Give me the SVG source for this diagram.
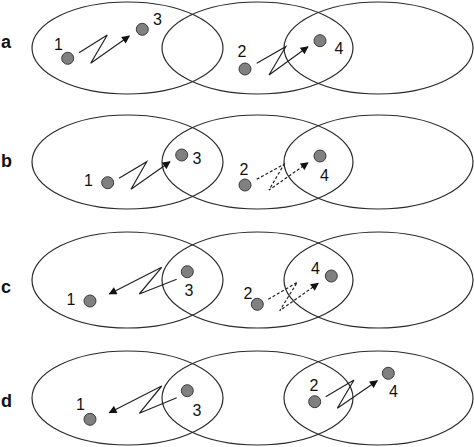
<svg xmlns="http://www.w3.org/2000/svg" width="474" height="447" viewBox="0 0 474 447">
<defs>
<marker id="ah" viewBox="0 0 10 10" refX="9" refY="5" markerWidth="9" markerHeight="8" markerUnits="userSpaceOnUse" orient="auto">
<path d="M0,0 L10,5 L0,10 z" fill="#111"/>
</marker>
</defs>
<style>
.cell{fill:none;stroke:#2a2a2a;stroke-width:1.2}
.node{fill:#808080;stroke:#3a3a3a;stroke-width:1}
.lbl{font-family:"Liberation Sans",Arial,sans-serif;font-size:16px;fill:#111;text-anchor:middle}
.row{font-family:"Liberation Sans",Arial,sans-serif;font-size:18px;font-weight:bold;fill:#111}
.arr{fill:none;stroke:#222;stroke-width:1.2;marker-end:url(#ah)}
.dash{stroke-dasharray:3 2}
</style>
<rect width="474" height="447" fill="#fff"/>
<g id="cells">
<ellipse class="cell" cx="127.5" cy="48" rx="95.5" ry="46"/>
<ellipse class="cell" cx="257.5" cy="48" rx="95.5" ry="46"/>
<ellipse class="cell" cx="378.5" cy="48" rx="94.5" ry="46"/>
<ellipse class="cell" cx="127.5" cy="162" rx="95.5" ry="47"/>
<ellipse class="cell" cx="257.5" cy="162" rx="95.5" ry="47"/>
<ellipse class="cell" cx="378.5" cy="162" rx="94.5" ry="47"/>
<ellipse class="cell" cx="127.5" cy="280" rx="95.5" ry="48"/>
<ellipse class="cell" cx="257.5" cy="280" rx="95.5" ry="48"/>
<ellipse class="cell" cx="378.5" cy="280" rx="94.5" ry="48"/>
<ellipse class="cell" cx="127.5" cy="398" rx="95.5" ry="47"/>
<ellipse class="cell" cx="257.5" cy="398" rx="95.5" ry="47"/>
<ellipse class="cell" cx="378.5" cy="398" rx="94.5" ry="47"/>
</g>
<g id="row-labels">
<text class="row" x="1" y="48">a</text>
<text class="row" x="1" y="167">b</text>
<text class="row" x="1" y="293">c</text>
<text class="row" x="1" y="407">d</text>
</g>
<g id="connectors">
<polyline class="arr" points="79,52.7 107.3,35 90.7,63.3 129.3,36"/>
<polyline class="arr" points="256.7,63.3 285.7,46.7 269,75 308,46.7"/>
<polyline class="arr" points="119,178.3 146.7,161.7 131,189.3 170,161.7"/>
<polyline class="arr dash" points="256.7,179.3 284,164.3 269,190 308,162.7"/>
<polyline class="arr" points="176.7,279.3 139.3,294 161.7,267.3 109.3,294"/>
<polyline class="arr dash" points="268.3,299.3 297.3,282.3 279.7,310.7 318.3,283.3"/>
<polyline class="arr" points="176.7,397.7 139.3,413.3 161.7,386 109.3,412.7"/>
<polyline class="arr" points="325.7,396.7 354,380 337.3,408.3 377.3,380.7"/>
</g>
<g id="row-a">
<g id="a-n1"><circle class="node" cx="67.7" cy="58.3" r="6"/><text class="lbl" x="58.5" y="50">1</text></g>
<g id="a-n3"><circle class="node" cx="142.3" cy="29.3" r="6"/><text class="lbl" x="157.5" y="25">3</text></g>
<g id="a-n2"><circle class="node" cx="245" cy="69" r="6"/><text class="lbl" x="242" y="57">2</text></g>
<g id="a-n4"><circle class="node" cx="320" cy="40.7" r="6"/><text class="lbl" x="339" y="54">4</text></g>
</g>
<g id="row-b">
<g id="b-n1"><circle class="node" cx="107.7" cy="182.7" r="6"/><text class="lbl" x="88.5" y="186">1</text></g>
<g id="b-n3"><circle class="node" cx="181.7" cy="155" r="6"/><text class="lbl" x="197" y="164">3</text></g>
<g id="b-n2"><circle class="node" cx="245" cy="185" r="6"/><text class="lbl" x="244" y="175">2</text></g>
<g id="b-n4"><circle class="node" cx="320" cy="156" r="6"/><text class="lbl" x="324.5" y="181">4</text></g>
</g>
<g id="row-c">
<g id="c-n1"><circle class="node" cx="90" cy="301" r="6"/><text class="lbl" x="71" y="305">1</text></g>
<g id="c-n3"><circle class="node" cx="187.3" cy="271.7" r="6"/><text class="lbl" x="189" y="296">3</text></g>
<g id="c-n2"><circle class="node" cx="257.3" cy="304.3" r="6"/><text class="lbl" x="248" y="299">2</text></g>
<g id="c-n4"><circle class="node" cx="331.3" cy="276" r="6"/><text class="lbl" x="315.5" y="274">4</text></g>
</g>
<g id="row-d">
<g id="d-n1"><circle class="node" cx="90" cy="419.3" r="6"/><text class="lbl" x="80.5" y="410">1</text></g>
<g id="d-n3"><circle class="node" cx="187.3" cy="390.7" r="6"/><text class="lbl" x="197" y="416">3</text></g>
<g id="d-n2"><circle class="node" cx="314.7" cy="401.7" r="6"/><text class="lbl" x="314" y="391">2</text></g>
<g id="d-n4"><circle class="node" cx="388.3" cy="373.3" r="6"/><text class="lbl" x="393.5" y="397">4</text></g>
</g>
</svg>
